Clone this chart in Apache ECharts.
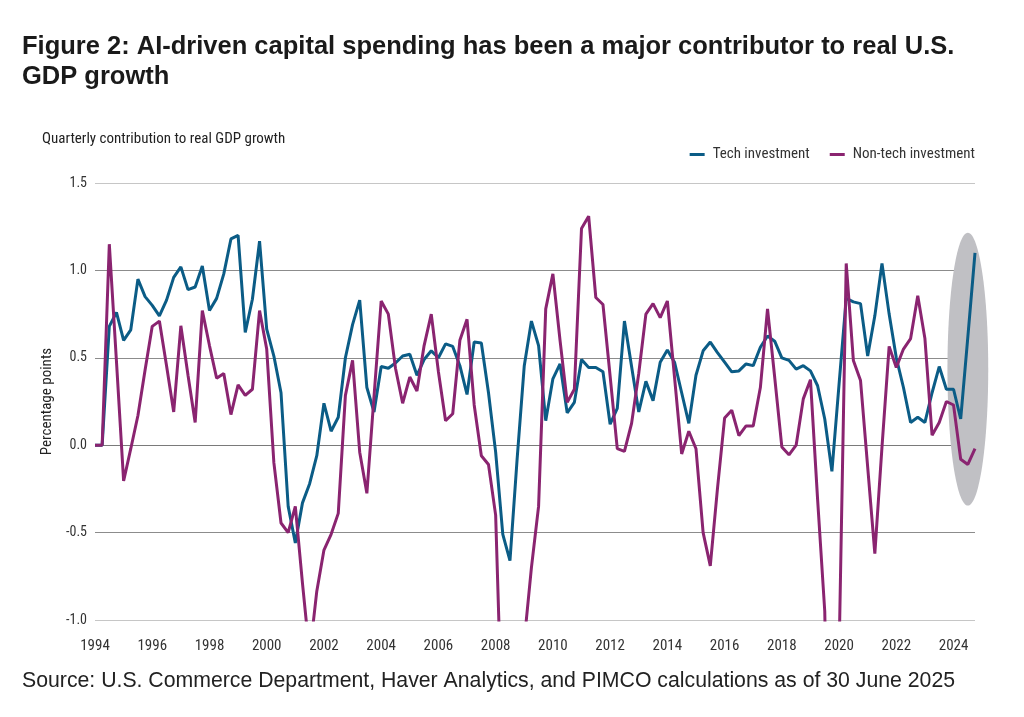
<!DOCTYPE html>
<html>
<head>
<meta charset="utf-8">
<script src="https://cdn.jsdelivr.net/npm/echarts@6/dist/echarts.min.js"></script>
<style>
  html, body { margin: 0; padding: 0; background: #fff; }
  #chart { width: 1024px; height: 717px; }
</style>
</head>
<body>
<div id="chart"></div>
<script>
// Quarterly categories 1994 Q1 .. 2024 Q4
const startYear = 1994;
const endYear = 2024;
const quarters = [];
for (let y = startYear; y <= endYear; y++) {
  for (let q = 1; q <= 4; q++) quarters.push(y + ' Q' + q);
}

// Tech investment contribution (percentage points)
const techInvestment = [
  0.00, 0.00, 0.68, 0.76, 0.60, 0.66, 0.95, 0.85,      // 1994-95
  0.80, 0.74, 0.83, 0.96, 1.02, 0.89, 0.905, 1.025,    // 1996-97
  0.77, 0.84, 0.98, 1.18, 1.20, 0.645, 0.835, 1.167,   // 1998-99
  0.664, 0.51, 0.30, -0.35, -0.56, -0.33, -0.22, -0.06,// 2000-01
  0.24, 0.08, 0.16, 0.50, 0.69, 0.83, 0.33, 0.19,      // 2002-03
  0.45, 0.44, 0.47, 0.51, 0.52, 0.40, 0.49, 0.54,      // 2004-05
  0.50, 0.58, 0.565, 0.455, 0.29, 0.59, 0.585, 0.30,   // 2006-07
  -0.04, -0.51, -0.66, -0.08, 0.455, 0.71, 0.57, 0.14, // 2008-09
  0.38, 0.465, 0.185, 0.245, 0.49, 0.445, 0.445, 0.42, // 2010-11
  0.12, 0.21, 0.71, 0.45, 0.19, 0.365, 0.255, 0.475,   // 2012-13
  0.545, 0.475, 0.30, 0.125, 0.40, 0.54, 0.59, 0.53,   // 2014-15
  0.475, 0.42, 0.425, 0.465, 0.455, 0.56, 0.625, 0.595,// 2016-17
  0.50, 0.485, 0.435, 0.455, 0.425, 0.34, 0.15, -0.15, // 2018-19
  0.35, 0.84, 0.82, 0.81, 0.51, 0.74, 1.04, 0.75,      // 2020-21
  0.50, 0.33, 0.13, 0.16, 0.13, 0.30, 0.45, 0.32,      // 2022-23
  0.32, 0.15, 0.62, 1.10                               // 2024
];

// Non-tech investment contribution (percentage points)
const nonTechInvestment = [
  0.00, 0.00, 1.15, 0.48, -0.205, -0.02, 0.17, 0.43,   // 1994-95
  0.68, 0.71, 0.455, 0.19, 0.683, 0.40, 0.13, 0.77,    // 1996-97
  0.57, 0.383, 0.41, 0.175, 0.345, 0.285, 0.32, 0.77,  // 1998-99
  0.55, -0.10, -0.445, -0.50, -0.35, -0.79, -1.2, -0.835, // 2000-01
  -0.60, -0.51, -0.39, 0.285, 0.485, -0.04, -0.275, 0.28, // 2002-03
  0.825, 0.75, 0.44, 0.24, 0.39, 0.31, 0.57, 0.75,     // 2004-05
  0.42, 0.14, 0.18, 0.60, 0.72, 0.23, -0.06, -0.11,    // 2006-07
  -0.40, -1.75, -2.3, -2.0, -1.12, -0.70, -0.35, 0.78, // 2008-09
  0.98, 0.60, 0.245, 0.32, 1.24, 1.31, 0.845, 0.805,   // 2010-11
  0.395, -0.02, -0.035, 0.125, 0.41, 0.75, 0.81, 0.73, // 2012-13
  0.825, 0.39, -0.05, 0.08, -0.02, -0.50, -0.69, -0.25,// 2014-15
  0.155, 0.20, 0.055, 0.11, 0.11, 0.33, 0.78, 0.39,    // 2016-17
  -0.01, -0.055, 0.00, 0.265, 0.375, -0.31, -0.95, -3.0, // 2018-19
  -1.2, 1.04, 0.485, 0.37, -0.125, -0.62, -0.01, 0.565,// 2020-21
  0.445, 0.55, 0.61, 0.855, 0.61, 0.057, 0.13, 0.25,   // 2022-23
  0.23, -0.08, -0.11, -0.02                            // 2024
];

const yTicks = [-1.0, -0.5, 0.0, 0.5, 1.0, 1.5];

// Highlight annotation (grey ellipse around the latest quarters)
const highlightQuarter = '2024 Q3';
const highlightCenter = 0.435;
const highlightHalfHeight = 0.78;
const highlightHalfWidthQuarters = 2.85;

const TEXT_FONT = "'Liberation Sans Narrow', 'Roboto Condensed', 'Liberation Sans', Arial, sans-serif";
const SANS = "'Liberation Sans', Arial, sans-serif";

const chart = echarts.init(document.getElementById('chart'), null, { renderer: 'canvas' });

chart.setOption({
  animation: false,
  backgroundColor: '#ffffff',
  title: [
    {
      text: 'Figure 2: AI-driven capital spending has been a major contributor to real U.S.\nGDP growth',
      left: 22, top: 32, padding: 0,
      textStyle: { fontFamily: SANS, fontSize: 25.5, fontWeight: 'bold', color: '#1a1a1a', lineHeight: 30 }
    },
    {
      text: 'Quarterly contribution to real GDP growth',
      left: 42, top: 132, padding: 0,
      textStyle: { fontFamily: TEXT_FONT, fontSize: 15, fontWeight: 'normal', color: '#222' }
    },
    {
      text: 'Source: U.S. Commerce Department, Haver Analytics, and PIMCO calculations as of 30 June 2025',
      left: 22, top: 671, padding: 0,
      textStyle: { fontFamily: SANS, fontSize: 21.25, fontWeight: 'normal', color: '#222' }
    }
  ],
  legend: {
    data: ['Tech investment', 'Non-tech investment'],
    right: 49, top: 147, padding: 0,
    icon: 'rect', itemWidth: 15, itemHeight: 3, itemGap: 20,
    textStyle: { fontFamily: TEXT_FONT, fontSize: 15, color: '#333', padding: [0, 0, 0, 3] }
  },
  grid: { left: 95, right: 49, top: 183, bottom: 97, containLabel: false },
  xAxis: {
    type: 'category',
    data: quarters,
    boundaryGap: false,
    axisLine: { show: false },
    axisTick: { show: false },
    splitLine: { show: false },
    axisLabel: {
      interval: function (idx) { return idx % 8 === 0; },
      formatter: function (v) { return v.slice(0, 4); },
      margin: 19,
      fontFamily: TEXT_FONT, fontSize: 15, color: '#333'
    }
  },
  yAxis: {
    type: 'value',
    min: yTicks[0], max: yTicks[yTicks.length - 1], interval: 0.5,
    name: 'Percentage points',
    nameLocation: 'middle',
    nameGap: 40,
    nameRotate: 90,
    nameTextStyle: { fontFamily: TEXT_FONT, fontSize: 15, color: '#222' },
    axisLine: { show: false },
    axisTick: { show: false },
    axisLabel: {
      formatter: function (v) { return v.toFixed(1); },
      margin: 8,
      fontFamily: TEXT_FONT, fontSize: 14, color: '#333'
    },
    splitLine: {
      show: true,
      lineStyle: { color: ['#c6c6c6', '#8c8c8c', '#7a7a7a', '#8c8c8c', '#8c8c8c', '#c6c6c6'], width: 1 }
    }
  },
  series: [
    {
      type: 'custom',
      name: 'highlight',
      z: 1,
      silent: true,
      clip: false,
      data: [[highlightQuarter, highlightCenter]],
      renderItem: function (params, api) {
        const idx = api.value(0);
        const c = api.coord([idx, api.value(1)]);
        const top = api.coord([idx, highlightCenter + highlightHalfHeight]);
        const step = api.coord([1, 0])[0] - api.coord([0, 0])[0];
        return {
          type: 'ellipse',
          shape: { cx: c[0], cy: c[1], rx: step * highlightHalfWidthQuarters, ry: c[1] - top[1] },
          style: { fill: '#c0c0c4' }
        };
      }
    },
    {
      name: 'Tech investment',
      type: 'line',
      data: techInvestment,
      symbol: 'none',
      z: 3,
      clip: true,
      itemStyle: { color: '#0b5c86' },
      lineStyle: { color: '#0b5c86', width: 3 }
    },
    {
      name: 'Non-tech investment',
      type: 'line',
      data: nonTechInvestment,
      symbol: 'none',
      z: 4,
      clip: true,
      itemStyle: { color: '#8a2470' },
      lineStyle: { color: '#8a2470', width: 3 }
    }
  ]
});
</script>
</body>
</html>
